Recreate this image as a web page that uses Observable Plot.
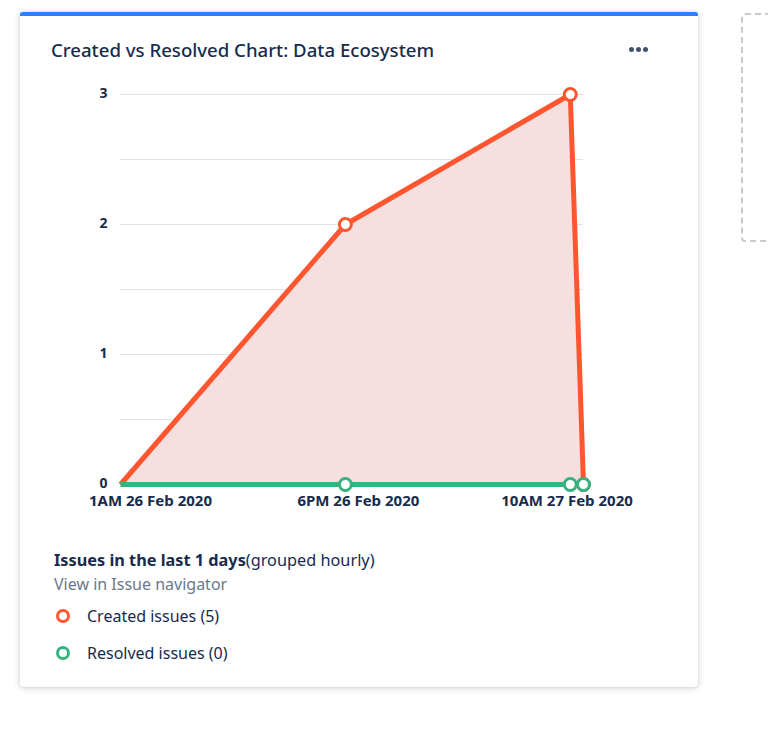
<!DOCTYPE html>
<html>
<head>
<meta charset="utf-8">
<script src="https://cdn.jsdelivr.net/npm/d3@7"></script>
<script src="https://cdn.jsdelivr.net/npm/@observablehq/plot@0.6"></script>
<style>
  html, body { margin: 0; padding: 0; background: #fff; width: 768px; height: 734px; overflow: hidden; }
  body { position: relative; font-family: "Noto Sans", "Open Sans", sans-serif; color: #172B4D; }
  .card { position: absolute; left: 20px; top: 12px; width: 678px; height: 675px; background: #fff;
          border-top: 4px solid #2684FF; border-radius: 3px; box-sizing: border-box;
          box-shadow: 0 1px 6px rgba(9,30,66,0.22), 0 0 1px rgba(9,30,66,0.25); }
  .title { position: absolute; left: 31px; top: 21px; font-size: 18.6px; font-weight: 500; color: #172B4D; white-space: nowrap; }
  .menu { position: absolute; left: 609px; top: 31px; font-size: 0; }
  .menu span { display: inline-block; width: 5px; height: 5px; border-radius: 50%; background: #42526E; margin-right: 2px; }
  .ghost { position: absolute; left: 741px; top: 13px; width: 60px; height: 225px; border: 2px dashed #c8c9cc; border-radius: 4px; }
  #chart { position: absolute; left: 40px; top: 70px; }
  .info { position: absolute; left: 54px; top: 548px; font-size: 16.3px; line-height: 24px; white-space: nowrap; }
  .info b { font-weight: 700; color: #172B4D; }
  .nav { position: absolute; left: 54px; top: 573px; font-size: 16px; color: #6B778C; white-space: nowrap; }
  .leg { position: absolute; left: 56px; font-size: 16px; color: #172B4D; white-space: nowrap; display: flex; align-items: center; }
  .leg i { display: inline-block; width: 8px; height: 8px; border-radius: 50%; border: 3px solid; margin-right: 17px; }
</style>
</head>
<body>
<div class="ghost"></div>
<div class="card">
  <div class="title">Created vs Resolved Chart: Data Ecosystem</div>
  <div class="menu"><span></span><span></span><span></span></div>
</div>
<div id="chart"></div>
<div class="info"><b>Issues in the last 1 days</b>(grouped hourly)</div>
<div class="nav">View in Issue navigator</div>
<div class="leg" style="top:605px"><i style="border-color:#FF5630"></i>Created issues (5)</div>
<div class="leg" style="top:642px"><i style="border-color:#36B37E"></i>Resolved issues (0)</div>
<script>
const times = ["2020-02-26T01:00Z", "2020-02-26T18:00Z", "2020-02-27T11:00Z", "2020-02-27T12:00Z"];
const createdValues = [0, 2, 3, 0];
const resolvedValues = [0, 0, 0, 0];
const yTicks = [0, 1, 2, 3];
const gridValues = [0, 0.5, 1, 1.5, 2, 2.5, 3];
const xTickTimes = ["2020-02-26T01:00Z", "2020-02-26T18:00Z", "2020-02-27T10:00Z"];

const created = times.map((t, i) => ({t: new Date(t), v: createdValues[i]}));
const resolved = times.map((t, i) => ({t: new Date(t), v: resolvedValues[i]}));
const fmt = d3.utcFormat("%-I%p %-d %b %Y");
const xAxisStyle = {tickSize: 0, tickPadding: 11, label: null, fontWeight: "bold", fontSize: 15, color: "#172B4D", tickFormat: fmt};

const chart = Plot.plot({
  width: 620,
  height: 450,
  marginLeft: 80,
  marginRight: 77,
  marginTop: 24,
  marginBottom: 36,
  style: {fontFamily: "'Noto Sans', 'Open Sans', sans-serif", background: "transparent", overflow: "visible"},
  x: {type: "utc", domain: [new Date(times[0]), new Date(times[times.length - 1])]},
  y: {domain: [0, 3]},
  marks: [
    Plot.ruleY(gridValues, {stroke: "#dfe1e6", strokeWidth: 1}),
    Plot.areaY(created, {x: "t", y: "v", fill: "#f5dfdf"}),
    Plot.lineY(created, {x: "t", y: "v", stroke: "#FF5630", strokeWidth: 5, strokeLinecap: "butt"}),
    Plot.lineY(resolved, {x: "t", y: "v", stroke: "#36B37E", strokeWidth: 5, strokeLinecap: "butt"}),
    Plot.dot(created.slice(1), {x: "t", y: "v", r: 6, fill: "white", stroke: "#FF5630", strokeWidth: 3}),
    Plot.dot(resolved.slice(1), {x: "t", y: "v", r: 6, fill: "white", stroke: "#36B37E", strokeWidth: 3}),
    Plot.axisY({ticks: yTicks, tickSize: 0, tickPadding: 13, label: null, fontWeight: "bold", fontSize: 14, color: "#172B4D", tickFormat: d3.format("d"), dy: -1}),
    Plot.axisX({...xAxisStyle, ticks: [new Date(xTickTimes[0])], dx: 30}),
    Plot.axisX({...xAxisStyle, ticks: [new Date(xTickTimes[1])], dx: 13}),
    Plot.axisX({...xAxisStyle, ticks: [new Date(xTickTimes[2])], dx: 10})
  ]
});
document.getElementById("chart").appendChild(chart);
</script>
</body>
</html>
